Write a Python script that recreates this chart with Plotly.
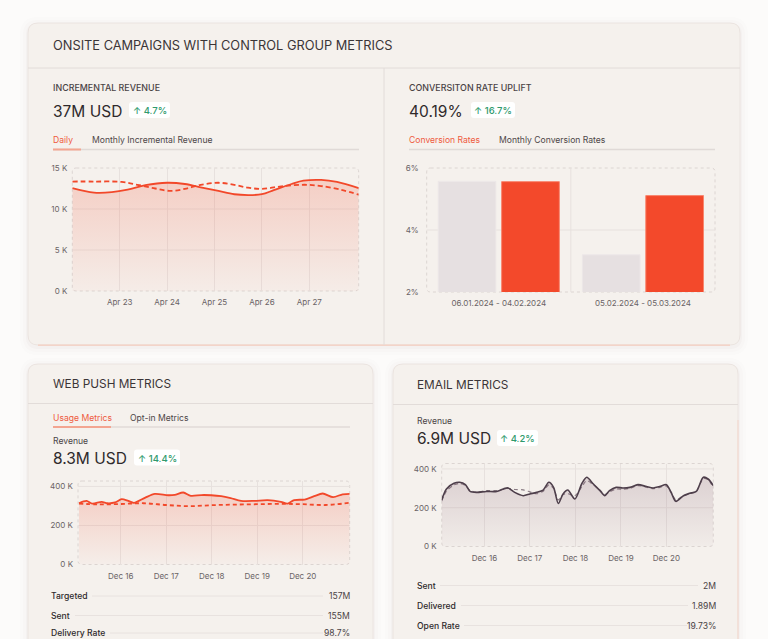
import plotly.graph_objects as go

W, H = 768, 639

# ---------------- data ----------------
inc_solid_x = ["2024-04-22 00:00", "2024-04-22 11:00", "2024-04-22 20:00", "2024-04-23 04:00",
               "2024-04-23 13:00", "2024-04-24 00:00", "2024-04-24 09:00", "2024-04-24 17:00",
               "2024-04-25 02:00", "2024-04-25 10:00", "2024-04-25 17:00", "2024-04-26 00:00",
               "2024-04-26 06:00", "2024-04-26 15:00", "2024-04-26 21:00", "2024-04-27 06:00",
               "2024-04-27 14:00", "2024-04-28 01:00"]
inc_solid_y = [12550, 12000, 12050, 12350, 12900, 13200, 13050, 12650, 12200, 11800, 11700,
               11800, 12300, 13050, 13450, 13550, 13300, 12550]
inc_dash_x = ["2024-04-22 00:00", "2024-04-22 11:00", "2024-04-23 01:00", "2024-04-23 09:00",
              "2024-04-23 18:00", "2024-04-24 02:00", "2024-04-24 09:00", "2024-04-24 17:00",
              "2024-04-25 02:00", "2024-04-25 10:00", "2024-04-25 17:00", "2024-04-26 00:00",
              "2024-04-26 08:00", "2024-04-26 16:00", "2024-04-26 23:00", "2024-04-27 06:00",
              "2024-04-27 16:00", "2024-04-28 01:00"]
inc_dash_y = [13350, 13350, 13300, 12950, 12500, 12200, 12450, 12950, 13200, 12950, 12600,
              12450, 12700, 12900, 12950, 12800, 12350, 11750]
inc_xticks = ["2024-04-23", "2024-04-24", "2024-04-25", "2024-04-26", "2024-04-27"]
inc_yticks = [0, 5000, 10000, 15000]
inc_ylabels = ["0 K", "5 K", "10 K", "15 K"]

conv_periods = ["06.01.2024 - 04.02.2024", "05.02.2024 - 05.03.2024"]
conv_control = [5.57, 3.20]
conv_campaign = [5.56, 5.11]
conv_yticks = [2, 4, 6]
conv_ylabels = ["2%", "4%", "6%"]

wp_x = ["2023-12-15 02:00", "2023-12-15 06:00", "2023-12-15 09:00", "2023-12-15 14:00",
        "2023-12-15 17:00", "2023-12-15 21:00", "2023-12-16 00:30", "2023-12-16 04:00",
        "2023-12-16 07:00", "2023-12-16 13:00", "2023-12-16 18:00", "2023-12-17 01:00",
        "2023-12-17 04:30", "2023-12-17 09:00", "2023-12-17 13:00", "2023-12-17 18:30",
        "2023-12-17 23:45", "2023-12-18 05:00", "2023-12-18 10:00", "2023-12-18 15:30",
        "2023-12-18 22:30", "2023-12-19 05:30", "2023-12-19 12:30", "2023-12-19 16:00",
        "2023-12-19 19:30", "2023-12-20 01:00", "2023-12-20 06:00", "2023-12-20 10:30",
        "2023-12-20 16:00", "2023-12-20 21:00", "2023-12-21 00:45"]
wp_y = [314000, 326000, 312000, 321000, 314000, 318000, 335000, 326000, 316000, 343000,
        362000, 355000, 357000, 369000, 352000, 356000, 355000, 350000, 340000, 326000,
        326000, 330000, 321000, 312000, 330000, 333000, 350000, 364000, 345000, 360000, 362000]
wp_dash_x = ["2023-12-15 02:00", "2023-12-15 12:00", "2023-12-16 00:00", "2023-12-16 12:00",
             "2023-12-17 00:00", "2023-12-17 12:00", "2023-12-18 00:00", "2023-12-18 12:00",
             "2023-12-19 00:00", "2023-12-19 12:00", "2023-12-20 00:00", "2023-12-20 12:00",
             "2023-12-21 00:45"]
wp_dash_y = [312000, 308000, 310000, 314000, 305000, 299000, 304000, 307000, 309000, 311000,
             309000, 305000, 316000]

em_x = ["2023-12-15 01:30", "2023-12-15 04:00", "2023-12-15 08:00", "2023-12-15 11:00",
        "2023-12-15 14:00", "2023-12-15 16:30", "2023-12-15 20:00", "2023-12-16 01:00",
        "2023-12-16 06:30", "2023-12-16 10:00", "2023-12-16 12:30", "2023-12-16 16:00",
        "2023-12-16 20:30", "2023-12-17 00:00", "2023-12-17 03:30", "2023-12-17 07:00",
        "2023-12-17 10:00", "2023-12-17 12:30", "2023-12-17 15:00", "2023-12-17 17:30",
        "2023-12-17 20:00", "2023-12-17 23:45", "2023-12-18 03:30", "2023-12-18 06:00",
        "2023-12-18 09:30", "2023-12-18 13:00", "2023-12-18 15:30", "2023-12-18 18:00",
        "2023-12-18 21:30", "2023-12-19 01:00", "2023-12-19 04:45", "2023-12-19 09:00",
        "2023-12-19 13:30", "2023-12-19 17:00", "2023-12-19 20:30", "2023-12-20 00:00",
        "2023-12-20 02:30", "2023-12-20 05:00", "2023-12-20 09:00", "2023-12-20 12:15",
        "2023-12-20 15:45", "2023-12-20 19:30", "2023-12-20 22:00", "2023-12-21 00:45"]
em_y = [240000, 297000, 326000, 331000, 319000, 284000, 279000, 284000, 284000, 297000,
        302000, 279000, 262000, 271000, 279000, 291000, 331000, 305000, 222000, 271000,
        291000, 245000, 326000, 357000, 322000, 288000, 262000, 288000, 305000, 302000,
        305000, 319000, 309000, 302000, 309000, 319000, 279000, 233000, 262000, 274000,
        284000, 357000, 348000, 314000]
em_dash_y = [235000, 285000, 318000, 325000, 315000, 290000, 280000, 288000, 288000, 294000,
             300000, 294000, 292000, 282000, 272000, 285000, 318000, 300000, 240000, 268000,
             272000, 262000, 310000, 340000, 318000, 290000, 268000, 282000, 296000, 296000,
             300000, 314000, 306000, 298000, 305000, 312000, 280000, 240000, 262000, 272000,
             285000, 350000, 345000, 305000]
dec_xticks = ["2023-12-16", "2023-12-17", "2023-12-18", "2023-12-19", "2023-12-20"]
k_yticks = [0, 200000, 400000]
k_ylabels = ["0 K", "200 K", "400 K"]

wp_stat_labels = ["Targeted", "Sent", "Delivery Rate"]
wp_stat_values = ["157M", "155M", "98.7%"]
em_stat_labels = ["Sent", "Delivered", "Open Rate"]
em_stat_values = ["2M", "1.89M", "19.73%"]

# ---------------- styling ----------------
FONT = "Inter"
RED = "#f2482a"
TAB_RED = "#ef5a3d"
GREEN = "#2f9a6d"
DARK = "#383234"
GRID = "#e7e1de"
BORDER_DASH = "#dcd5d2"
CARD = "#f5f1ed"
PAGE = "#fcfbfa"
TICKFONT = dict(family=FONT, size=8, color="#6a6365")
DX = -2  # annotation box padding compensation


def px(x):
    return x / W


def py(y):
    return 1 - y / H


def rrect(x0, y0, x1, y1, r):
    return (f"M {px(x0 + r)},{py(y0)} L {px(x1 - r)},{py(y0)} "
            f"Q {px(x1)},{py(y0)} {px(x1)},{py(y0 + r)} L {px(x1)},{py(y1 - r)} "
            f"Q {px(x1)},{py(y1)} {px(x1 - r)},{py(y1)} L {px(x0 + r)},{py(y1)} "
            f"Q {px(x0)},{py(y1)} {px(x0)},{py(y1 - r)} L {px(x0)},{py(y0 + r)} "
            f"Q {px(x0)},{py(y0)} {px(x0 + r)},{py(y0)} Z")


shapes = []
annotations = []


def card(x0, y0, x1, y1, r=10, border="#ebe4e0"):
    for i, a in [(8, 0.010), (5, 0.016), (2, 0.026)]:
        shapes.append(dict(type="path", xref="paper", yref="paper", layer="below",
                           path=rrect(x0 - i, y0 - i + 2, x1 + i, y1 + i + 2, r + i),
                           fillcolor=f"rgba(120,80,60,{a})", line=dict(width=0)))
    shapes.append(dict(type="path", xref="paper", yref="paper", layer="below",
                       path=rrect(x0, y0, x1, y1, r), fillcolor=CARD,
                       line=dict(color=border, width=1)))


def hline(x0, x1, y, color="#e2dcd9", width=1):
    shapes.append(dict(type="line", xref="paper", yref="paper", layer="below",
                       x0=px(x0), x1=px(x1), y0=py(y), y1=py(y),
                       line=dict(color=color, width=width)))


def vline(x, y0, y1, color="#e2dcd9", width=1):
    shapes.append(dict(type="line", xref="paper", yref="paper", layer="below",
                       x0=px(x), x1=px(x), y0=py(y0), y1=py(y1),
                       line=dict(color=color, width=width)))


def text(x, y, s, size, color=DARK, anchor="left", weight=400):
    off = DX if anchor == "left" else (-DX if anchor == "right" else 0)
    annotations.append(dict(x=px(x + off), y=py(y), xref="paper", yref="paper", text=s,
                            showarrow=False, xanchor=anchor, yanchor="middle",
                            font=dict(family=FONT, size=size, color=color, weight=weight)))


def badge(x0, y0, x1, y1, s):
    shapes.append(dict(type="path", xref="paper", yref="paper", layer="below",
                       path=rrect(x0, y0, x1, y1, 3), fillcolor="#ffffff",
                       line=dict(width=0)))
    text((x0 + x1) / 2, (y0 + y1) / 2 + 0.5, s, 9.5, GREEN, anchor="center", weight=500)


def plot_border(x0, y0, x1, y1):
    shapes.append(dict(type="path", xref="paper", yref="paper", layer="below",
                       path=rrect(x0, y0, x1, y1, 4), fillcolor="rgba(0,0,0,0)",
                       line=dict(color=BORDER_DASH, width=1, dash="3px,3px")))


# ---------------- cards ----------------
card(28, 23, 740, 345)
hline(38, 730, 345.2, color="#f4cdbf", width=1.2)
card(28, 364, 373, 690)
card(393, 364, 738, 690)
vline(738, 420, 690, color="#f4d6cb", width=1)

# top card structure
hline(28, 740, 68)
vline(384, 68, 345)
text(53, 45, "ONSITE CAMPAIGNS WITH CONTROL GROUP METRICS", 12.8, "#3b3537")

# left half
text(53, 87.5, "INCREMENTAL REVENUE", 8.9, "#4a4345", weight=500)
text(53, 111, "37M USD", 15.5, "#2f2a2c")
badge(129, 102, 170, 118, "↑ 4.7%")
text(53, 140, "Daily", 8.6, TAB_RED)
text(92, 140, "Monthly Incremental Revenue", 8.6, "#4d4648")
hline(53, 359, 149.5, color="#e0dad7", width=1.5)
hline(53, 81, 149.5, color="#f3a591", width=2)

# right half
text(409, 87.5, "CONVERSITON RATE UPLIFT", 8.9, "#4a4345", weight=500)
text(409, 111, "40.19%", 15.5, "#2f2a2c")
badge(471, 102, 515, 118, "↑ 16.7%")
text(409, 140, "Conversion Rates", 8.6, TAB_RED)
text(499, 140, "Monthly Conversion Rates", 8.6, "#4d4648")
hline(409, 715, 149.5, color="#e0dad7", width=1.5)

# web push card
text(53, 383.5, "WEB PUSH METRICS", 11.8, "#3b3537")
hline(28, 373, 403.5)
text(53, 417.5, "Usage Metrics", 8.6, TAB_RED)
text(130, 417.5, "Opt-in Metrics", 8.6, "#4d4648")
hline(53, 350, 427, color="#e0dad7", width=1.5)
hline(53, 111, 427, color="#f3a591", width=2)
text(53, 441, "Revenue", 8.6, "#4a4345")
text(53, 458.5, "8.3M USD", 15.5, "#2f2a2c")
badge(134, 449.5, 180, 465.5, "↑ 14.4%")

# email card
text(417, 384.5, "EMAIL METRICS", 11.8, "#3b3537")
hline(393, 738, 404.5)
text(417, 421, "Revenue", 8.6, "#4a4345")
text(417, 438.5, "6.9M USD", 15.5, "#2f2a2c")
badge(497, 430, 538, 446, "↑ 4.2%")

# stats rows
wp_rows_y = [596, 615.5, 633]
wp_line_x0 = [92, 75, 110]
for lab, val, yy, lx in zip(wp_stat_labels, wp_stat_values, wp_rows_y, wp_line_x0):
    text(51, yy, lab, 8.6, "#2f2a2c", weight=500)
    text(350, yy, val, 8.6, "#4a4345", anchor="right")
    hline(lx, 323, yy, color="#e8e2df")

em_rows_y = [585.5, 605.5, 625.5]
em_line_x0 = [440, 461, 464]
em_line_x1 = [698, 688, 687]
for lab, val, yy, lx, rx in zip(em_stat_labels, em_stat_values, em_rows_y, em_line_x0, em_line_x1):
    text(417, yy, lab, 8.6, "#2f2a2c", weight=500)
    text(716, yy, val, 8.6, "#4a4345", anchor="right")
    hline(lx, rx, yy, color="#e8e2df")

# plot borders
plot_border(72.3, 168, 358.7, 291)
plot_border(426.7, 168, 715, 292)
plot_border(78, 481, 349.7, 564.5)
plot_border(441.7, 463.5, 713.3, 546.5)

# interior horizontal grid lines (from tick arrays)
for v in inc_yticks[1:-1]:
    shapes.append(dict(type="line", xref="x domain", yref="y", x0=0, x1=1, y0=v, y1=v,
                       layer="below", line=dict(color=GRID, width=1)))
for v in conv_yticks[1:-1]:
    shapes.append(dict(type="line", xref="x2 domain", yref="y2", x0=0, x1=1, y0=v, y1=v,
                       layer="below", line=dict(color=GRID, width=1)))
shapes.append(dict(type="line", xref="x2", yref="y2 domain", x0=0.5, x1=0.5, y0=0, y1=1,
                   layer="below", line=dict(color=GRID, width=1)))
for v in k_yticks[1:]:
    shapes.append(dict(type="line", xref="x3 domain", yref="y3", x0=0, x1=1, y0=v, y1=v,
                       layer="below", line=dict(color=GRID, width=1)))
    shapes.append(dict(type="line", xref="x4 domain", yref="y4", x0=0, x1=1, y0=v, y1=v,
                       layer="below", line=dict(color=GRID, width=1)))

# ---------------- traces ----------------
fig = go.Figure()

red_grad = dict(type="vertical", start=0, stop=14000,
                colorscale=[[0, "rgba(242,80,50,0.03)"], [1, "rgba(242,80,50,0.22)"]])

fig.add_trace(go.Scatter(x=inc_solid_x, y=inc_solid_y, mode="lines", xaxis="x", yaxis="y",
                         line=dict(color=RED, width=1.8, shape="spline", smoothing=1),
                         fill="tozeroy", fillgradient=red_grad))
fig.add_trace(go.Scatter(x=inc_dash_x, y=inc_dash_y, mode="lines", xaxis="x", yaxis="y",
                         line=dict(color=RED, width=1.8, dash="5px,3px", shape="spline", smoothing=1)))

fig.add_trace(go.Bar(x=conv_periods, y=conv_control, xaxis="x2", yaxis="y2",
                     marker=dict(color="#e6e0e1", line=dict(color="#ede8e8", width=1))))
fig.add_trace(go.Bar(x=conv_periods, y=conv_campaign, xaxis="x2", yaxis="y2",
                     marker=dict(color="#f3492b", line=dict(color="#f8866e", width=1))))

wp_grad = dict(type="vertical", start=0, stop=370000,
               colorscale=[[0, "rgba(242,80,50,0.02)"], [1, "rgba(242,80,50,0.22)"]])
fig.add_trace(go.Scatter(x=wp_x, y=wp_y, mode="lines", xaxis="x3", yaxis="y3",
                         line=dict(color=RED, width=1.8, shape="spline", smoothing=0.8),
                         fill="tozeroy", fillgradient=wp_grad))
fig.add_trace(go.Scatter(x=wp_dash_x, y=wp_dash_y, mode="lines", xaxis="x3", yaxis="y3",
                         line=dict(color=RED, width=1.8, dash="4px,3px", shape="spline", smoothing=1)))

em_grad = dict(type="vertical", start=0, stop=360000,
               colorscale=[[0, "rgba(120,80,100,0.03)"], [1, "rgba(120,80,100,0.2)"]])
fig.add_trace(go.Scatter(x=em_x, y=em_dash_y, mode="lines", xaxis="x4", yaxis="y4",
                         line=dict(color="#8a7c84", width=1.2, dash="4px,3px", shape="spline", smoothing=0.8)))
fig.add_trace(go.Scatter(x=em_x, y=em_y, mode="lines", xaxis="x4", yaxis="y4",
                         line=dict(color="#4e3f4b", width=1.6, shape="spline", smoothing=0.8),
                         fill="tozeroy", fillgradient=em_grad))

# ---------------- axes ----------------
common_x = dict(showgrid=True, gridcolor=GRID, gridwidth=1, zeroline=False, showline=False,
                ticks="", tickfont=TICKFONT, ticklabelstandoff=5, fixedrange=True,
                automargin=False)
common_y = dict(showgrid=False, zeroline=False, showline=False, ticks="", tickfont=TICKFONT,
                ticklabelstandoff=4, fixedrange=True, automargin=False)

fig.update_layout(
    width=W, height=H, autosize=False,
    margin=dict(l=0, r=0, t=0, b=0, pad=0, autoexpand=False),
    paper_bgcolor=PAGE, plot_bgcolor="rgba(0,0,0,0)",
    showlegend=False, hovermode=False,
    barmode="group", bargap=0.12, bargroupgap=0.09,
    shapes=shapes, annotations=annotations,
    xaxis=dict(domain=[px(72.3), px(358.7)], anchor="y", type="date",
               range=["2024-04-22 00:00", "2024-04-28 01:00"], tickvals=inc_xticks,
               tickformat="%b %d", **common_x),
    yaxis=dict(domain=[py(291), py(168)], anchor="x", range=[0, 15000],
               tickvals=inc_yticks, ticktext=inc_ylabels, **common_y),
    xaxis2=dict(domain=[px(426.7), px(715)], anchor="y2", type="category",
                **{**common_x, "showgrid": False}),
    yaxis2=dict(domain=[py(292), py(168)], anchor="x2", range=[2, 6],
                tickvals=conv_yticks, ticktext=conv_ylabels, **{**common_y, "ticklabelstandoff": 7}),
    xaxis3=dict(domain=[px(78), px(349.7)], anchor="y3", type="date",
                range=["2023-12-15 01:30", "2023-12-21 00:45"], tickvals=dec_xticks,
                tickformat="%b %d", **common_x),
    yaxis3=dict(domain=[py(564.5), py(481)], anchor="x3", range=[0, 428000],
                tickvals=k_yticks, ticktext=k_ylabels, **common_y),
    xaxis4=dict(domain=[px(441.7), px(713.3)], anchor="y4", type="date",
                range=["2023-12-15 01:30", "2023-12-21 00:45"], tickvals=dec_xticks,
                tickformat="%b %d", **common_x),
    yaxis4=dict(domain=[py(546.5), py(463.5)], anchor="x4", range=[0, 428000],
                tickvals=k_yticks, ticktext=k_ylabels, **common_y),
)

fig.write_html("out.html")
